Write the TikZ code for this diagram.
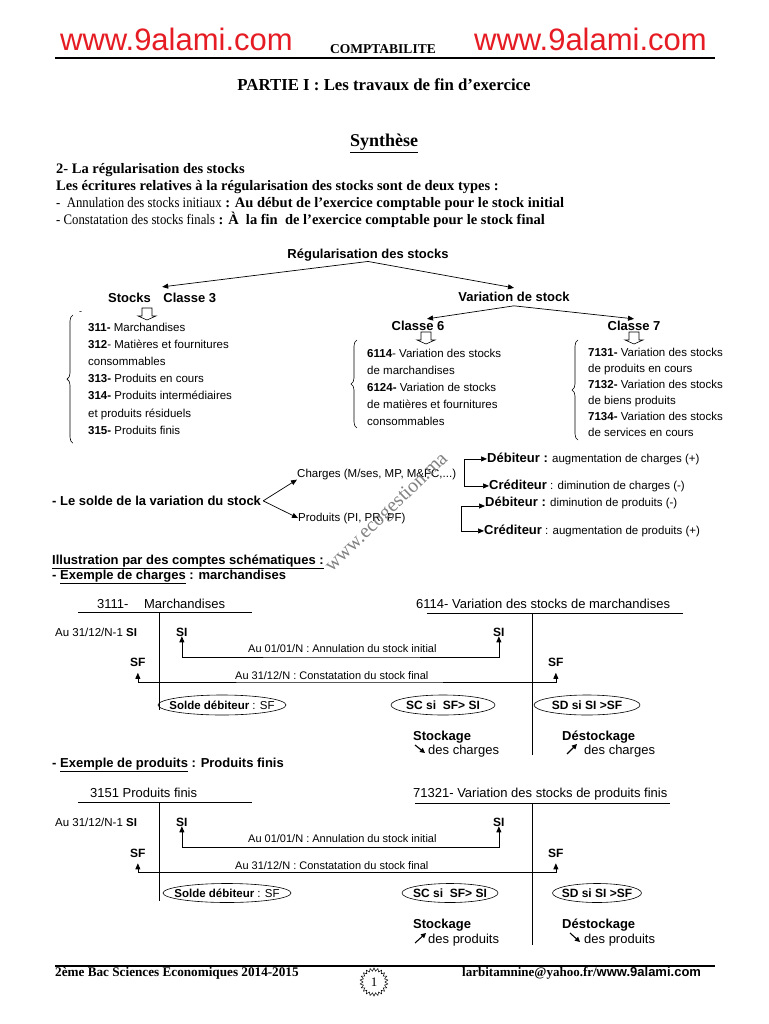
\documentclass[tikz,border=0pt]{standalone}
\usepackage{fontspec}
\setmainfont{Liberation Serif}
\setsansfont{Liberation Sans}
\usetikzlibrary{positioning}
\usetikzlibrary{arrows.meta}
\usetikzlibrary{shapes.symbols}
\usetikzlibrary{decorations.pathreplacing}
\definecolor{webred}{RGB}{230,28,36}
\definecolor{stamp}{RGB}{130,130,130}
\newcommand{\fs}[1]{\fontsize{#1}{#1}\selectfont}
\newcommand{\bigb}[1]{{\bfseries\fs{13}#1}}
\newcommand{\narrow}[1]{{\mdseries\addfontfeature{FakeStretch=0.88}#1}}
\newcommand{\stockline}[4][17.2pt]{\node (#3) [txt, below=#1 of #2.base west, anchor=base west] {#4};}
\tikzstyle{www} = [font=\sffamily\fs{31}, text=webred, inner sep=0pt, anchor=base west]
\tikzstyle{serifline} = [font=\bfseries\fs{14.5}, inner sep=0pt, anchor=base west]
\tikzstyle{txt} = [font=\sffamily\fs{11.5}, inner sep=0pt, anchor=base west]
\tikzstyle{smalltxt} = [font=\sffamily\fs{11}, inner sep=0pt, anchor=base west]
\tikzstyle{bigtxt} = [font=\sffamily\fs{13}, inner sep=0pt, anchor=base west]
\tikzstyle{headtxt} = [font=\sffamily\bfseries\fs{13}, inner sep=0pt, anchor=base west]
\tikzstyle{acctitle} = [font=\sffamily\fs{13}, inner sep=0pt, anchor=base west]
\tikzstyle{sisf} = [font=\sffamily\bfseries\fs{12}, inner sep=0pt, anchor=base west]
\tikzstyle{soldetxt} = [font=\sffamily\fs{11.5}, inner sep=0pt]
\tikzstyle{soldebold} = [font=\sffamily\bfseries\fs{12}, inner sep=0pt]
\tikzstyle{oval} = [line width=0.6pt]
\tikzstyle{link} = [-{Triangle[length=6pt,width=5pt]}, line width=0.7pt]
\tikzstyle{dlink} = [{Triangle[length=6pt,width=5pt]}-{Triangle[length=6pt,width=5pt]}, line width=0.7pt]
\tikzstyle{trend} = [-{Triangle[length=5pt,width=5pt]}, line width=1.1pt]
\tikzstyle{tline} = [line width=0.9pt]
\tikzstyle{rule} = [line width=1.2pt]
\tikzstyle{curly} = [decorate, decoration={brace, amplitude=6pt}, line width=0.6pt]
\tikzset{hollowdown/.pic={\draw[line width=0.6pt] (-5,0) -- (5,0) -- (5,8) -- (9,8) -- (0,12) -- (-9,8) -- (-5,8) -- cycle;}}

\begin{document}
\begin{tikzpicture}[x=1pt, y=-1pt]
	\fill[white] (0,0) rectangle (768,1024);
	\useasboundingbox (0,0) rectangle (768,1024);

	% header
	\node (webL) [www] at (60,51) {www.9alami.com};
	\node (webR) [www] at (474,51) {www.9alami.com};
	\node (compta) [serifline, font=\bfseries\fs{13.5}, anchor=base] at (383,54) {COMPTABILITE};
	\draw[rule] (55,58) -- (715,58);

	\node (partie) [serifline, font=\bfseries\fs{16.8}, anchor=base] at (384,91) {PARTIE I : Les travaux de fin d’exercice};
	\node (synth) [serifline, font=\bfseries\fs{18}, anchor=base] at (384,147) {\underline{Synthèse}};

	\node (regtitle) [serifline] at (56,174) {2- La régularisation des stocks};
	\node (types) [serifline, below=16.5pt of regtitle.base west, anchor=base west] {Les écritures relatives à la régularisation des stocks sont de deux types :};
	\node (annul) [serifline, below=16.8pt of types.base west, anchor=base west] {\narrow{-\ \ Annulation des stocks initiaux} : Au début de l’exercice comptable pour le stock initial};
	\node (const) [serifline, below=16.8pt of annul.base west, anchor=base west] {\narrow{- Constatation des stocks finals} : À\ \ la fin\ \ de l’exercice comptable pour le stock final};

	% tree of accounts
	\node (reg) [headtxt, anchor=base] at (368,258.5) {Régularisation des stocks};
	\node (stocks) [headtxt] at (108,302.5) {Stocks\hspace{9pt} Classe 3};
	\node (varst) [headtxt, anchor=base] at (514,301.5) {Variation de stock};
	\node (cl6) [headtxt, anchor=base] at (418,330.5) {Classe 6};
	\node (cl7) [headtxt, anchor=base] at (634,330.5) {Classe 7};
	\draw[link] (reg.south) -- ([yshift=6pt]stocks.north);
	\draw[link] (reg.south) -- ([yshift=4pt]varst.north);
	\draw[link] ([yshift=-4pt]varst.south) -- ([xshift=9pt,yshift=2pt]cl6.north);
	\draw[link] ([yshift=-4pt]varst.south) -- ([yshift=2pt]cl7.north);
	\pic at (147,308) {hollowdown};
	\pic at (426,332) {hollowdown};
	\pic at (634,332) {hollowdown};

	\node (dash3) [txt, font=\sffamily\fs{9}] at (79,314) {-};
	\node (a311) [txt] at (88,331) {\textbf{311-} Marchandises};
	\stockline{a311}{a312}{\textbf{312}- Matières et fournitures}
	\stockline{a312}{a312b}{consommables}
	\stockline{a312b}{a313}{\textbf{313-} Produits en cours}
	\stockline{a313}{a314}{\textbf{314-} Produits intermédiaires}
	\stockline{a314}{a314b}{et produits résiduels}
	\stockline{a314b}{a315}{\textbf{315-} Produits finis}
	\draw[curly] ([xshift=-15pt,yshift=-9pt]a315.base west) -- ([xshift=-15pt,yshift=16pt]a311.base west);

	\node (v6114) [txt] at (367,357) {\textbf{6114}- Variation des stocks};
	\stockline[17pt]{v6114}{v6114b}{de marchandises}
	\stockline[17pt]{v6114b}{v6124}{\textbf{6124-} Variation de stocks}
	\stockline[17pt]{v6124}{v6124b}{de matières et fournitures}
	\stockline[17pt]{v6124b}{v6124c}{consommables}
	\draw[curly] ([xshift=-10pt,yshift=-3pt]v6124c.base west) -- ([xshift=-10pt,yshift=17pt]v6114.base west);

	\node (v7131) [txt] at (588,356) {\textbf{7131-} Variation des stocks};
	\stockline[16pt]{v7131}{v7131b}{de produits en cours}
	\stockline[16pt]{v7131b}{v7132}{\textbf{7132-} Variation des stocks}
	\stockline[16pt]{v7132}{v7132b}{de biens produits}
	\stockline[16pt]{v7132b}{v7134}{\textbf{7134-} Variation des stocks}
	\stockline[16pt]{v7134}{v7134b}{de services en cours}
	\draw[curly] ([xshift=-10pt,yshift=-4pt]v7134b.base west) -- ([xshift=-10pt,yshift=16pt]v7131.base west);

	% solde
	\node (solde) [headtxt] at (52,505.5) {- Le solde de la variation du stock};
	\node (charges) [txt] at (297,477) {Charges (M/ses, MP, M\&FC,...)};
	\node (produits) [txt] at (298,521) {Produits (PI, PR, PF)};
	\draw[link] ([xshift=2pt]solde.east) -- (charges.south west);
	\draw[link] ([xshift=2pt]solde.east) -- (produits.west);

	\node (deb1) [txt] at (487,462.5) {\bigb{Débiteur :} augmentation de charges (+)};
	\node (cre1) [txt] at (489,489.5) {\bigb{Créditeur} : diminution de charges (-)};
	\coordinate (fork1) at ([xshift=8pt]charges.east);
	\draw[link] (fork1) |- (deb1.west);
	\draw[link] (fork1) |- (cre1.west);

	\node (deb2) [txt] at (485,506) {\bigb{Débiteur :} diminution de produits (-)};
	\node (cre2) [txt] at (484,534.5) {\bigb{Créditeur} : augmentation de produits (+)};
	\coordinate (fork2) at (461,517);
	\draw[link] (fork2) |- (deb2.base west);
	\draw[link] (fork2) |- (cre2.west);

	\node (ecog) [font=\fs{20}, text=stamp, rotate=44] at (387,513) {www.ecogestion.ma};

	\node (illus) [headtxt] at (52,564.5) {\underline{Illustration par des comptes schématiques :}};
	\node (excharges) [headtxt] at (52,579.5) {- \underline{Exemple de charges} : marchandises};

	% T-accounts, charges
	\node (t3111) [acctitle] at (97,608) {3111-\hspace{12pt} Marchandises};
	\node (t6114) [acctitle] at (416,608) {6114- Variation des stocks de marchandises};
	\draw[tline] (78,612) -- (252,612);
	\draw[tline] (159,612) -- (159,710);
	\draw[tline] (427,613) -- (683,613);
	\draw[tline] (532,613) -- (532,755);

	\node (sinA) [txt] at (55,636) {Au 31/12/N-1 \textbf{SI}};
	\node (siA) [sisf] at (176,636) {SI};
	\node (siB) [sisf] at (493,636) {SI};
	\node (sfA) [sisf] at (130,666.5) {SF};
	\node (sfB) [sisf] at (548,666.5) {SF};
	\node (annA) [smalltxt] at (248,652) {Au 01/01/N : Annulation du stock initial};
	\node (conA) [smalltxt] at (235,679) {Au 31/12/N : Constatation du stock final};
	\draw[dlink] (siA.south) |- ([yshift=-5pt]annA.base) -| (siB.south);
	\draw[dlink, shorten <=6pt, shorten >=6pt] (sfA.south) |- ([yshift=-3pt]conA.base) -| (sfB.south);

	\node (sdA) [soldetxt] at (222,705) {\textbf{Solde débiteur} : SF};
	\node (scA) [soldebold] at (443,705) {SC si\ \ SF> SI};
	\node (sdsA) [soldebold] at (587,705) {SD si SI >SF};
	\draw[oval] (sdA) ellipse [x radius=64, y radius=10];
	\draw[oval] (scA) ellipse [x radius=52, y radius=10];
	\draw[oval] (sdsA) ellipse [x radius=53, y radius=10];

	\node (stoA) [headtxt] at (413,740.5) {Stockage};
	\node (dcA) [bigtxt] at (428,754.5) {des charges};
	\node (dstoA) [headtxt] at (562,740.5) {Déstockage};
	\node (dcB) [bigtxt] at (584,754.5) {des charges};
	\coordinate (trA) at (415,745);
	\coordinate (trB) at (567,754);
	\draw[trend] (trA) -- ++(10,8);
	\draw[trend] (trB) -- ++(10,-10);

	\node (exprod) [headtxt] at (52,767.5) {- \underline{Exemple de produits} : Produits finis};

	% T-accounts, produits
	\node (t3151) [acctitle] at (90,797.5) {3151 Produits finis};
	\node (t71321) [acctitle] at (413,797.5) {71321- Variation des stocks de produits finis};
	\draw[tline] (78,802) -- (252,802);
	\draw[tline] (159,802) -- (159,901);
	\draw[tline] (415,803) -- (670,803);
	\draw[tline] (532,803) -- (532,945);

	\node (sinB) [txt] at (55,826) {Au 31/12/N-1 \textbf{SI}};
	\node (siC) [sisf] at (176,826) {SI};
	\node (siD) [sisf] at (493,826) {SI};
	\node (sfC) [sisf] at (130,857.5) {SF};
	\node (sfD) [sisf] at (548,857.5) {SF};
	\node (annB) [smalltxt] at (248,842) {Au 01/01/N : Annulation du stock initial};
	\node (conB) [smalltxt] at (235,869) {Au 31/12/N : Constatation du stock final};
	\draw[dlink] (siC.south) |- ([yshift=-5pt]annB.base) -| (siD.south);
	\draw[dlink, shorten <=5.5pt, shorten >=5.5pt] (sfC.south) |- ([yshift=-3pt]conB.base) -| (sfD.south);

	\node (sdB) [soldetxt] at (227,893) {\textbf{Solde débiteur} : SF};
	\node (scB) [soldebold] at (450,893) {SC si\ \ SF> SI};
	\node (sdsB) [soldebold] at (597,893) {SD si SI >SF};
	\draw[oval] (sdB) ellipse [x radius=64, y radius=9.5];
	\draw[oval] (scB) ellipse [x radius=48, y radius=9.5];
	\draw[oval] (sdsB) ellipse [x radius=44.5, y radius=9.5];

	\node (stoB) [headtxt] at (413,928.5) {Stockage};
	\node (dpA) [bigtxt] at (428,943.5) {des produits};
	\node (dstoB) [headtxt] at (562,928.5) {Déstockage};
	\node (dpB) [bigtxt] at (584,943.5) {des produits};
	\coordinate (trC) at (415,943);
	\coordinate (trD) at (570,933);
	\draw[trend] (trC) -- ++(11,-10);
	\draw[trend] (trD) -- ++(10,9);

	% footer
	\draw[rule] (55,966) -- (715,966);
	\node (bac) [serifline, font=\bfseries\fs{13.2}] at (55,976) {2ème Bac Sciences Economiques 2014-2015};
	\node (page) [starburst, draw, line width=0.5pt, starburst points=22, starburst point height=3pt, random starburst=0, minimum size=28pt, inner sep=0pt, font=\fs{13}] at (374,982) {1};
	\node (mail) [serifline, font=\bfseries\fs{13}] at (462,976) {larbitamnine@yahoo.fr/{\sffamily www.9alami.com}};
\end{tikzpicture}
\end{document}
